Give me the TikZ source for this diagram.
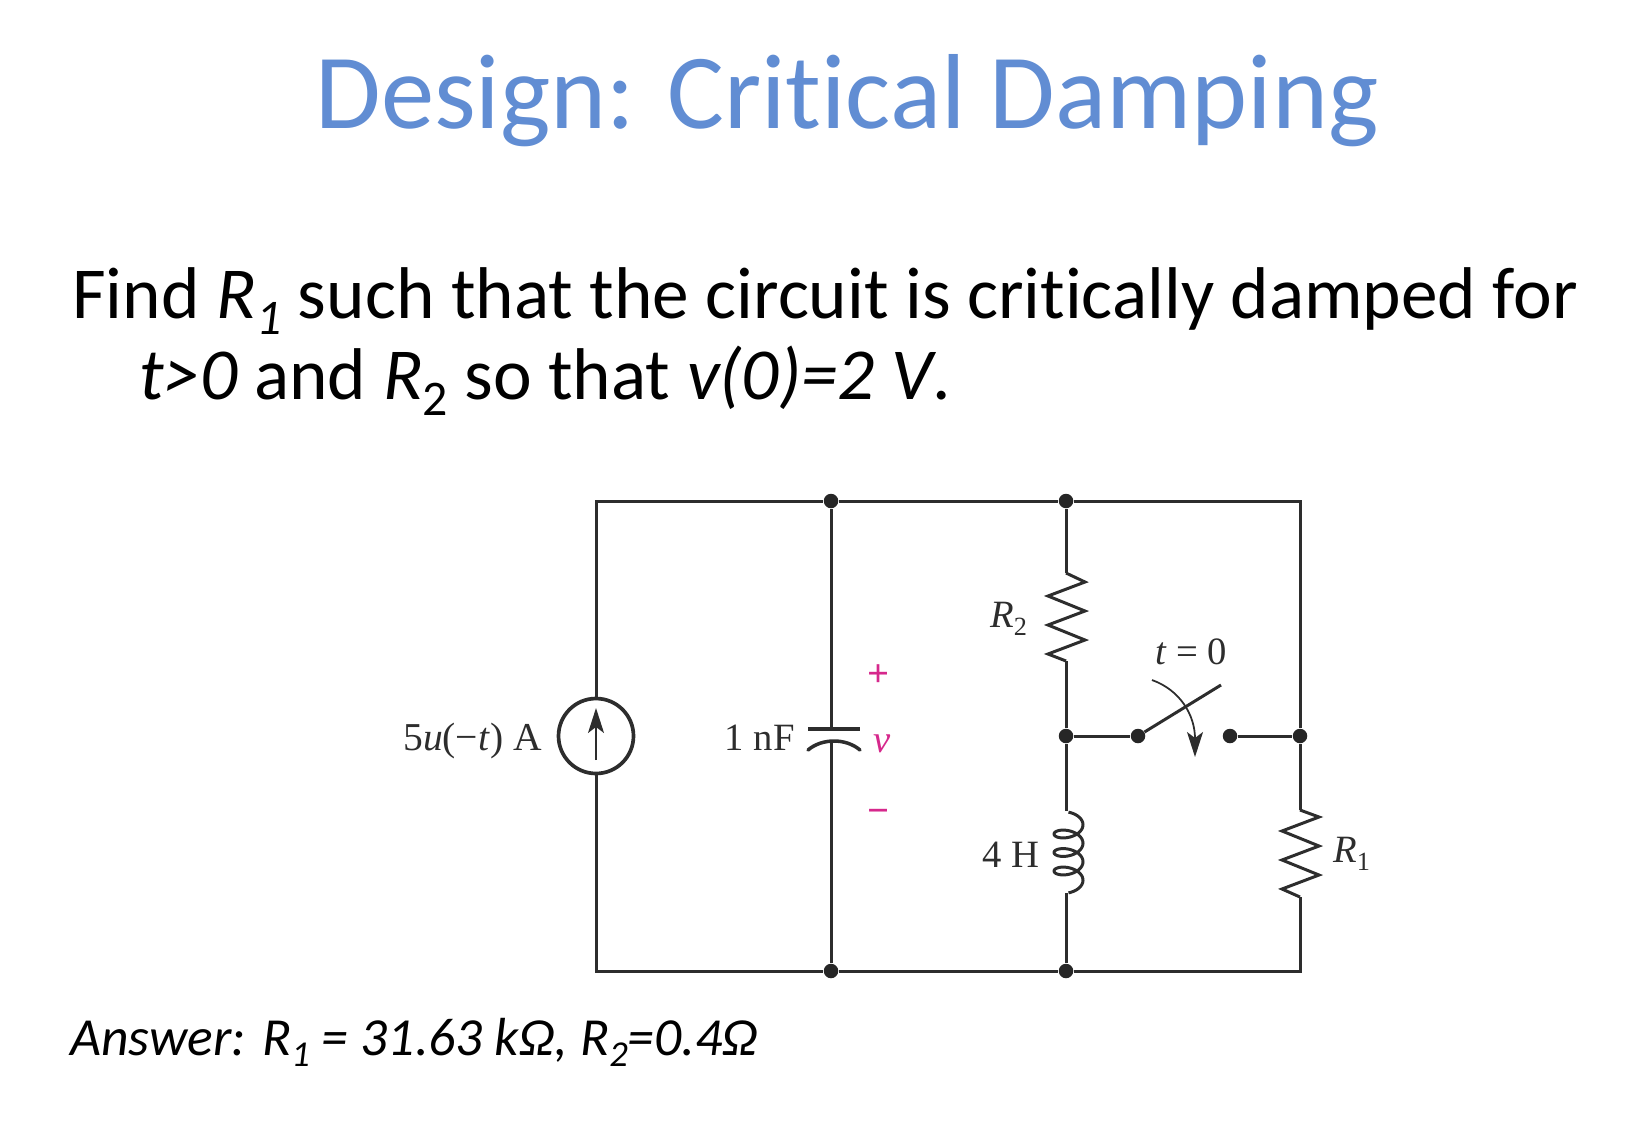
\documentclass[tikz,border=0pt]{standalone}
\usepackage{fontspec}
\setmainfont[Ligatures=NoCommon]{Carlito}
\newfontfamily\circfont{Liberation Serif}
\usetikzlibrary{arrows.meta}
\definecolor{titleblue}{RGB}{97,141,211}
\definecolor{wirecol}{RGB}{45,45,45}
\definecolor{polecol}{RGB}{214,40,140}
\newcommand{\lowidx}[1]{\raisebox{-0.22em}{\scalebox{0.68}{#1}}}
\tikzset{
  slidetext/.style={anchor=base west, inner sep=0pt, font=\fontsize{#1}{#1}\selectfont},
  circlabel/.style={inner sep=0pt, text=wirecol, font=\fontsize{22}{22}\selectfont\circfont},
  polelabel/.style={inner sep=0pt, text=polecol, font=\fontsize{22}{22}\selectfont\circfont},
  wire/.style={draw=wirecol, line width=1.7pt},
  thinhead/.style={wirecol, line width=1pt, -{Stealth[length=0.5cm, width=0.32cm, inset=0.12cm]}},
  junction/.style={circle, fill=black!85, inner sep=0pt, minimum size=0.29cm},
}
\begin{document}
\begin{tikzpicture}[x=0.02cm, y=-0.02cm]
    \useasboundingbox (0,0) rectangle (1646,1126);

    \node[slidetext=60.7, anchor=base, text=titleblue] (title) at (847,128) {Design: Critical Damping};
    \node[slidetext=41.7] (find) at (72,318) {Find \textit{R}\lowidx{\textit{1}} such that the circuit is critically damped for};
    \node[slidetext=41.7] (find2) at (139,399) {\textit{t>0} and \textit{R}\lowidx{2} so that \textit{v(0)=2 V}.};
    \node[slidetext=30.5] (answer) at (70,1055) {\textit{Answer: R\lowidx{1} = 31.63 kΩ, R\lowidx{2}=0.4Ω}};

    \coordinate (tl) at (596,501);
    \coordinate (tr) at (1300,501);
    \coordinate (bl) at (596,971);
    \coordinate (br) at (1300,971);
    \node[junction] (topcap) at (831,501) {};
    \node[junction] (topind) at (1066,501) {};
    \node[junction] (botcap) at (831,971) {};
    \node[junction] (botind) at (1066,971) {};
    \node[junction] (midind) at (1066,736) {};
    \node[junction] (midres) at (1300,736) {};
    \node[junction] (swa) at (1138,736) {};
    \node[junction] (swb) at (1230,736) {};
    \node[circle, wire, line width=2.1pt, inner sep=0pt, minimum size=1.5cm] (src) at (596,736) {};

    \draw[wire] (src.north) -- (tl) -- (topcap) -- (topind) -- (tr) -- (midres) -- (1300,810) coordinate (ronetop);
    \draw[wire] (src.south) -- (bl) -- (botcap) -- (botind) -- (br) -- (1300,897) coordinate (ronebot);

    \coordinate (arrowtail) at (596,760);
    \coordinate (arrowtip) at (596,708);
    \draw[thinhead] (arrowtail) -- (arrowtip);

    \coordinate (plateup) at (831,729);
    \coordinate (platelow) at (831,743);
    \draw[wire] (topcap) -- (plateup);
    \draw[wire] (platelow) -- (botcap);
    \draw[wire, line width=2pt] (808,729) -- (860,729);
    \draw[wire, line width=2pt, line cap=round] (808,750) .. controls (822,738) and (846,738) .. (860,750);

    \draw[wire] (topind) -- (1066,573) coordinate (rtwotop);
    \draw[wire] (rtwotop) -- ++(19,9) -- ++(-37,14) -- ++(37,15) -- ++(-37,14) -- ++(37,15) -- ++(-37,14) -- ++(18,7) coordinate (rtwobot);
    \draw[wire] (rtwobot) -- (midind);
    \draw[wire] (midind) -- (1066,811) coordinate (indtop);
    \draw[wire] plot[smooth, samples=130, domain=-90:1170, variable=\t] ({1068.5+14.5*cos(\t)}, {834+(\t-180)/360*18.5+8*sin(\t)});
    \draw[wire] (1066,893) coordinate (indbot) -- (botind);
    \draw[wire] (midind) -- (swa);
    \draw[wire] (swb) -- (midres);
    \draw[wire] (swa) -- (1221,685) coordinate (blade);
    \draw[thinhead] (1152,680) coordinate (bendtail) .. controls (1180,690) and (1195,715) .. (1195,757) coordinate (bendtip);

    \draw[wire] (ronetop) -- ++(19,7) -- ++(-37,14) -- ++(37,15) -- ++(-37,14) -- ++(37,15) -- ++(-37,14) -- ++(18,8);

    \node[circlabel, anchor=base east, font=\fontsize{22.5}{22.5}\selectfont\circfont] (srclabel) at (542,750) {5\textit{u}(−\textit{t}) A};
    \node[circlabel, anchor=base east] (caplabel) at (795,750) {1 nF};
    \node[circlabel, anchor=base east] (indlabel) at (1040,867) {4 H};
    \node[circlabel, anchor=base west] (rtwolabel) at (990,627) {\textit{R}\lowidx{2}};
    \node[circlabel, anchor=base west] (ronelabel) at (1333,862) {\textit{R}\lowidx{1}};
    \node[circlabel, anchor=base west] (swlabel) at (1155,664) {\textit{t} = 0};
    \node[polelabel] (plus) at (879,676) {\bfseries +};
    \node[polelabel, anchor=base] (vlabel) at (882,752) {\textit{v}};
    \node[polelabel] (minus) at (879,816) {\bfseries −};
\end{tikzpicture}
\end{document}
